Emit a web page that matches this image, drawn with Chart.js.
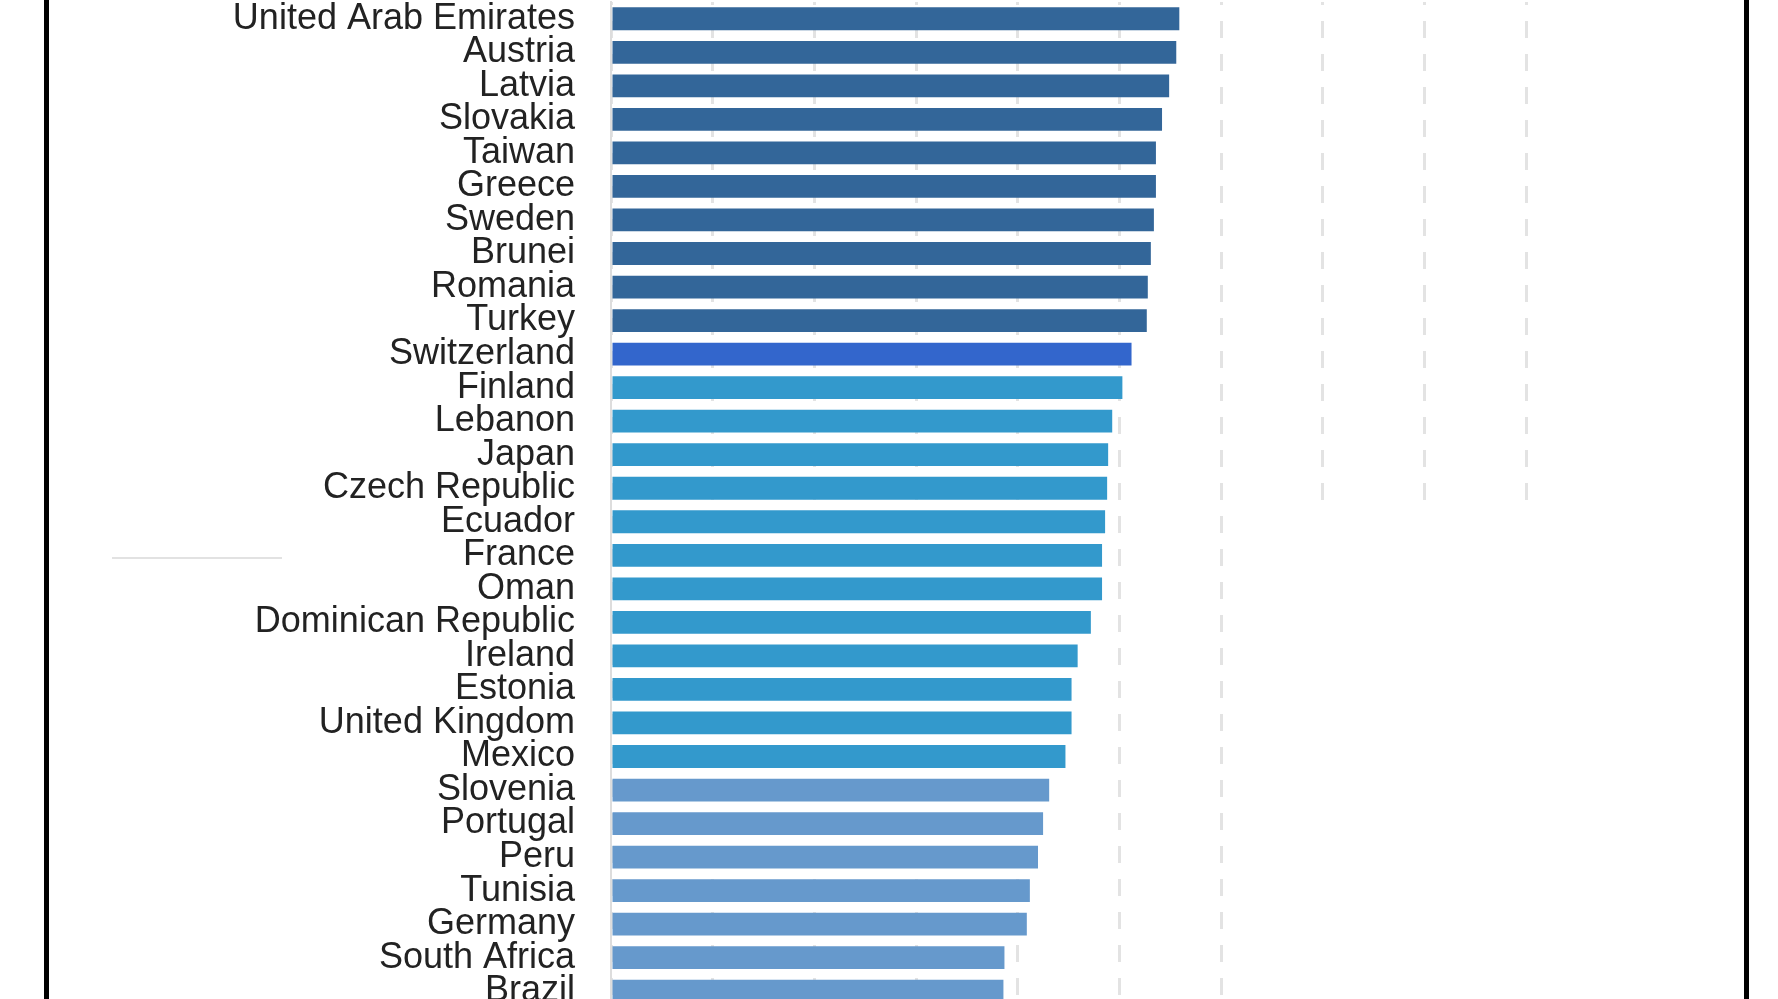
<!DOCTYPE html>
<html>
<head>
<meta charset="utf-8">
<script src="https://cdn.jsdelivr.net/npm/chart.js@4/dist/chart.umd.min.js"></script>
<style>
  html, body { margin: 0; padding: 0; background: #fff; overflow: hidden; }
  body { width: 1778px; height: 999px; position: relative; }
  #wrap { position: absolute; left: 0; top: 0; width: 1778px; height: 1008px; }
  .frame { position: absolute; top: 0; bottom: 0; width: 5px; background: #000; }
</style>
</head>
<body>
<div id="wrap"><canvas id="chart"></canvas></div>
<div class="frame" style="left:44px"></div>
<div class="frame" style="left:1744px"></div>
<script>
const countries = ['United Arab Emirates', 'Austria', 'Latvia', 'Slovakia', 'Taiwan', 'Greece', 'Sweden', 'Brunei', 'Romania', 'Turkey',
  'Switzerland', 'Finland', 'Lebanon', 'Japan', 'Czech Republic', 'Ecuador', 'France', 'Oman', 'Dominican Republic', 'Ireland',
  'Estonia', 'United Kingdom', 'Mexico', 'Slovenia', 'Portugal', 'Peru', 'Tunisia', 'Germany', 'South Africa', 'Brazil'];
const values = [55.9, 55.6, 54.9, 54.2, 53.6, 53.6, 53.4, 53.1, 52.8, 52.7,
  51.2, 50.3, 49.3, 48.9, 48.8, 48.6, 48.3, 48.3, 47.2, 45.9,
  45.3, 45.3, 44.7, 43.1, 42.5, 42.0, 41.2, 40.9, 38.7, 38.6];
// colour group for each bar
const groups = ['top', 'top', 'top', 'top', 'top', 'top', 'top', 'top', 'top', 'top',
  'highlight', 'mid', 'mid', 'mid', 'mid', 'mid', 'mid', 'mid', 'mid', 'mid',
  'mid', 'mid', 'mid', 'low', 'low', 'low', 'low', 'low', 'low', 'low'];
const groupColors = {top: '#336699', highlight: '#3366CC', mid: '#3399CC', low: '#6699CC'};

// grid lines on the right stop half way down, and a stray grey rule on the left
const coverPlugin = {
  id: 'cover',
  beforeDatasetsDraw(c) {
    const ctx = c.ctx, x = c.scales.x, y = c.scales.y;
    const top = (y.getPixelForValue(14) + y.getPixelForValue(15)) / 2;
    ctx.save();
    ctx.fillStyle = '#fff';
    ctx.fillRect(x.getPixelForValue(65), top, c.width, c.height);
    ctx.restore();
  },
  afterDraw(c) {
    const ctx = c.ctx;
    ctx.save();
    ctx.strokeStyle = '#e2e2e2';
    ctx.lineWidth = 2;
    ctx.beginPath();
    ctx.moveTo(112, 558);
    ctx.lineTo(282, 558);
    ctx.stroke();
    ctx.restore();
  }
};

new Chart(document.getElementById('chart'), {
  type: 'bar',
  data: {
    labels: countries,
    datasets: [{
      data: values,
      backgroundColor: groups.map(g => groupColors[g]),
      barPercentage: 0.68,
      categoryPercentage: 1
    }]
  },
  options: {
    indexAxis: 'y',
    responsive: true,
    maintainAspectRatio: false,
    animation: false,
    layout: { padding: { top: 2, right: 252, left: 0, bottom: 0 } },
    plugins: { legend: { display: false }, tooltip: { enabled: false } },
    scales: {
      x: {
        min: 0, max: 90,
        ticks: { display: false, stepSize: 10 },
        border: { display: false, dash: [17, 16], dashOffset: 14 },
        grid: { color: '#e3e3e3', lineWidth: 3, drawTicks: false },
        afterFit(s) { s.height = 0; s.paddingLeft = 0; s.paddingRight = 0; }
      },
      y: {
        grid: { display: false, drawTicks: false },
        border: { display: true, color: '#dddddd', width: 2 },
        ticks: {
          autoSkip: false,
          padding: 36,
          color: '#222',
          font: { family: '"Liberation Sans", Arial, sans-serif', size: 36 }
        },
        afterFit(s) { s.width = 611; s.paddingTop = 0; s.paddingBottom = 0; }
      }
    }
  },
  plugins: [coverPlugin]
});
</script>
</body>
</html>
